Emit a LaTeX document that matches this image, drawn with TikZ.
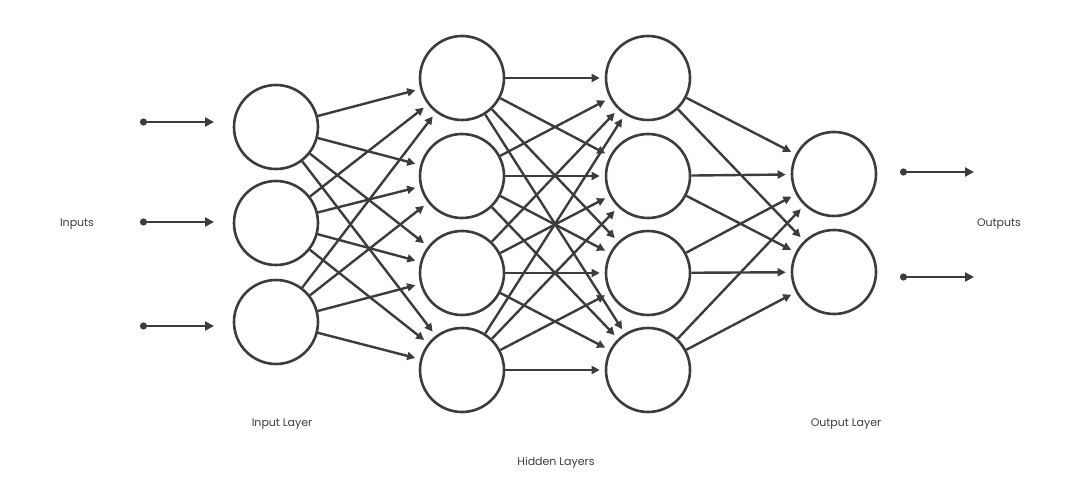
\documentclass[tikz,border=0pt]{standalone}
\usepackage{fontspec}
\setmainfont{Poppins}
\usetikzlibrary{arrows.meta}
\definecolor{ink}{HTML}{3C3C3C}
\begin{document}
\begin{tikzpicture}[x=1pt,y=-1pt,
  neuron/.style={circle,draw=ink,line width=2.6pt,minimum size=84pt,inner sep=0pt},
  conn/.style={draw=ink,line width=2.4pt,-{Triangle[length=8pt,width=8pt]},shorten >=5pt},
  io/.style={draw=ink,line width=2.6pt,{Circle[length=7pt]}-{Triangle[length=9pt,width=9pt]}},
  lbl/.style={font=\fontsize{11}{13}\selectfont,text=ink}]
\useasboundingbox (0,0) rectangle (1080,489);
\foreach \i/\y in {1/127,2/223,3/322} \node[neuron] (a\i) at (276,\y) {};
\foreach \i/\y in {1/78,2/176,3/273,4/370} {\node[neuron] (b\i) at (462,\y) {};
  \node[neuron] (c\i) at (648,\y) {};}
\foreach \i/\y in {1/174,2/272} \node[neuron] (d\i) at (834,\y) {};
\foreach \i in {1,2,3} \foreach \j in {1,2,3,4} \draw[conn] (a\i) -- (b\j);
\foreach \i in {1,2,3,4} \foreach \j in {1,2,3,4} \draw[conn] (b\i) -- (c\j);
\foreach \i in {1,2,3,4} \foreach \j in {1,2} \draw[conn] (c\i) -- (d\j);
\foreach \y [count=\k] in {122,222,326} {\coordinate (is\k) at (140,\y); \coordinate (ie\k) at (214,\y); \draw[io] (is\k) -- (ie\k);}
\foreach \y [count=\k] in {172,277} {\coordinate (os\k) at (900,\y); \coordinate (oe\k) at (974,\y); \draw[io] (os\k) -- (oe\k);}
\node[lbl] (tin) at (77,224) {Inputs};
\node[lbl] (tout) at (999,224) {Outputs};
\node[lbl] (til) at (282,424) {Input Layer};
\node[lbl] (thl) at (556,463) {Hidden Layers};
\node[lbl] (tol) at (846,424) {Output Layer};
\end{tikzpicture}
\end{document}
